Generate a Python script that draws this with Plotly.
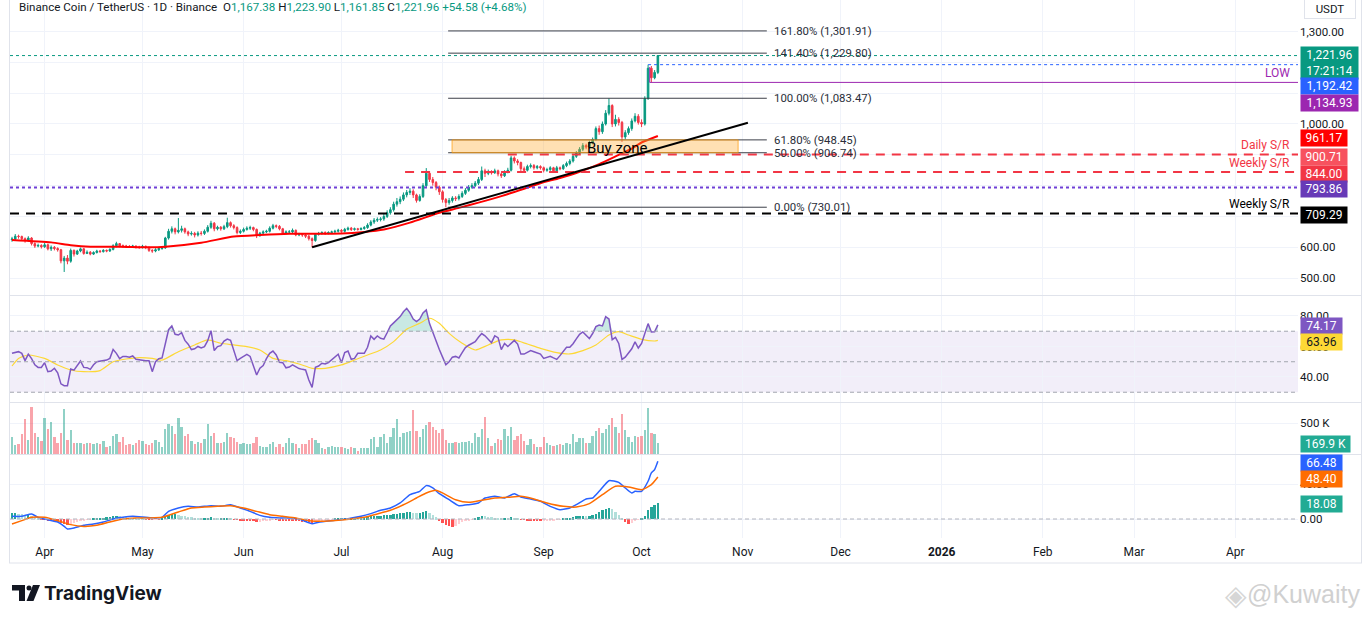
import pandas as pd
import plotly.graph_objects as go

# ---------------- DATA ----------------
BASE = pd.Timestamp("2025-03-22")   # first daily candle

first_open = 625.0
close = [
    627, 636, 635, 628, 622, 630, 612, 604, 606, 602,
    608, 595, 600, 596, 592, 556, 565, 555, 590, 578,
    588, 595, 580, 584, 578, 583, 588, 586, 590, 588,
    593, 605, 612, 605, 604, 603, 602, 604, 601, 600,
    603, 600, 590, 588, 592, 596, 598, 630, 652, 660,
    650, 655, 660, 650, 643, 645, 640, 646, 645, 652,
    665, 678, 660, 665, 660, 667, 680, 670, 664, 648,
    652, 658, 662, 664, 658, 638, 646, 650, 652, 662,
    670, 668, 660, 646, 650, 650, 655, 640, 642, 640,
    636, 628, 622, 642, 645, 648, 645, 648, 650, 652,
    655, 652, 658, 662, 658, 660, 658, 661, 664, 672,
    682, 688, 690, 692, 700, 712, 722, 740, 748, 756,
    770, 778, 782, 770, 752, 765, 800, 840, 820, 810,
    795, 780, 755, 745, 752, 760, 758, 765, 775, 785,
    795, 800, 808, 820, 848, 840, 845, 842, 848, 838,
    832, 845, 850, 890, 880, 875, 855, 850, 862, 865,
    858, 862, 858, 850, 852, 858, 848, 858, 855, 865,
    872, 880, 895, 905, 918, 930, 925, 940, 950, 985,
    975, 1000, 1035, 1060, 1000, 1015, 1005, 958, 972, 985,
    1010, 1025, 1005, 1000, 1083, 1181, 1150, 1167.38, 1221.96,
]
high = [
    634, 643, 641, 638, 632, 636, 633, 616, 612, 610,
    614, 612, 606, 604, 600, 595, 572, 575, 596, 593,
    592, 599, 598, 590, 588, 587, 592, 591, 594, 593,
    597, 610, 618, 614, 609, 608, 607, 608, 606, 605,
    608, 606, 602, 594, 597, 601, 604, 634, 660, 668,
    664, 695, 670, 664, 654, 652, 650, 652, 653, 658,
    672, 686, 682, 670, 669, 673, 696, 684, 675, 668,
    658, 664, 668, 670, 667, 661, 650, 655, 657, 668,
    676, 674, 672, 663, 655, 656, 661, 658, 647, 646,
    644, 640, 632, 646, 650, 652, 652, 652, 654, 657,
    660, 659, 663, 667, 666, 664, 663, 665, 669, 678,
    688, 695, 697, 698, 708, 720, 730, 748, 760, 765,
    778, 786, 792, 788, 774, 772, 808, 857, 845, 828,
    815, 800, 785, 760, 760, 766, 766, 772, 782, 792,
    802, 808, 815, 828, 862, 855, 852, 850, 855, 852,
    842, 850, 858, 897, 895, 886, 878, 862, 868, 872,
    870, 867, 866, 862, 858, 863, 861, 864, 862, 870,
    878, 886, 902, 912, 925, 938, 936, 946, 956, 992,
    995, 1008, 1045, 1083.47, 1064, 1030, 1022, 1010, 980, 992,
    1018, 1035, 1032, 1015, 1090, 1192.42, 1188, 1175, 1223.90,
]
low = [
    618, 624, 628, 622, 615, 618, 606, 598, 600, 596,
    598, 590, 588, 590, 586, 548, 520, 545, 550, 570,
    575, 584, 576, 578, 574, 575, 580, 582, 583, 584,
    585, 590, 600, 600, 599, 598, 598, 598, 596, 595,
    596, 594, 585, 582, 584, 588, 592, 595, 625, 645,
    642, 645, 648, 644, 636, 638, 632, 635, 638, 640,
    648, 660, 652, 655, 654, 656, 662, 664, 658, 642,
    643, 648, 654, 656, 652, 630, 634, 642, 646, 648,
    658, 662, 655, 640, 642, 645, 646, 636, 636, 634,
    630, 622, 600, 618, 638, 641, 640, 642, 644, 646,
    648, 647, 648, 654, 653, 654, 654, 655, 657, 660,
    668, 676, 682, 684, 686, 695, 706, 716, 732, 740,
    750, 762, 770, 760, 745, 748, 760, 795, 812, 800,
    785, 770, 745, 730.01, 738, 745, 750, 752, 760, 770,
    780, 790, 795, 802, 815, 828, 834, 836, 838, 830,
    825, 828, 840, 846, 872, 866, 846, 842, 846, 856,
    852, 853, 852, 843, 845, 848, 842, 845, 850, 851,
    860, 866, 875, 890, 900, 912, 918, 920, 934, 946,
    965, 968, 995, 1028, 990, 992, 995, 942, 950, 965,
    978, 1005, 998, 990, 995, 1078, 1134.93, 1145, 1161.85,
]
volume_k = [
    280, 145, 161, 323, 564, 226, 753, 333, 274, 210,
    575, 409, 511, 274, 183, 344, 731, 226, 387, 183,
    183, 172, 161, 172, 172, 161, 183, 161, 210, 118,
    129, 290, 323, 199, 280, 145, 161, 145, 172, 226,
    215, 161, 145, 172, 226, 199, 108, 398, 484, 457,
    323, 586, 441, 290, 317, 210, 161, 199, 183, 237,
    478, 290, 344, 172, 183, 199, 333, 280, 253, 199,
    161, 172, 161, 167, 183, 280, 129, 108, 118, 161,
    199, 118, 161, 108, 183, 253, 172, 161, 91, 161,
    161, 226, 253, 226, 172, 91, 75, 108, 129, 118,
    108, 118, 91, 75, 108, 91, 54, 91, 91, 91,
    237, 280, 118, 269, 323, 183, 269, 414, 565, 280,
    344, 360, 376, 710, 376, 280, 398, 470, 522, 441,
    387, 344, 398, 226, 172, 183, 199, 172, 199, 199,
    215, 172, 333, 280, 403, 602, 253, 129, 172, 242,
    226, 403, 290, 441, 226, 290, 323, 210, 145, 242,
    161, 118, 118, 269, 172, 145, 129, 145, 161, 145,
    183, 161, 317, 194, 263, 263, 172, 183, 296, 371,
    425, 344, 398, 468, 586, 430, 344, 640, 387, 280,
    194, 296, 280, 290, 387, 747, 344, 323, 169.9,
]
rsi = [
    55.5, 56, 56.6, 55.5, 50.7, 55, 52, 48, 46.3, 46.3,
    49.4, 43.5, 43.9, 45.7, 42.8, 35.5, 34.3, 34.3, 45.2, 44.5,
    47.2, 50.5, 46.3, 46.1, 45, 48, 50, 50.3, 50.8, 51.1,
    52.2, 58, 55.5, 52, 53.5, 53.5, 53, 53.8, 51.6, 51.2,
    51, 50.7, 50.7, 43.5, 50, 52, 52.5, 62, 71, 73.5,
    68, 67.5, 69, 64, 61.5, 58, 58.5, 60, 59, 59.9,
    63.8, 70.4, 57.3, 59.9, 60.5, 63.5, 64.9, 64, 57.7, 50.7,
    52.2, 53.3, 54.8, 53.5, 47, 41.3, 45.7, 47.5, 52, 55.5,
    57, 54.4, 49.6, 49.4, 46, 46.5, 47.9, 46.8, 45.5, 45,
    44.6, 38, 33.2, 46.3, 47.2, 49, 48.6, 49.5, 51.1, 53,
    54.9, 49.4, 56, 57, 51.6, 52.2, 55.5, 55.5, 55.5, 59.5,
    66.9, 64.7, 66.9, 65.4, 64.8, 69, 73.5, 75.5, 77.4, 79.6,
    82.8, 85, 82, 78, 76.3, 78, 82, 84, 75, 69,
    63, 58, 53, 48, 50, 53, 53.5, 52.5, 56, 59.3,
    60.8, 62.1, 63.2, 66, 68.5, 67, 64.5, 62.5, 67, 65.8,
    58, 62, 60, 62, 64, 61.6, 55, 55, 56.2, 57.3,
    56.5, 55.6, 55, 52.2, 52.7, 53.6, 52.5, 51.5, 54, 56.7,
    59.5, 59.5, 61.8, 65, 68, 69.5, 67.3, 65.2, 68.5, 73,
    74, 73.5, 79.5, 78, 64.5, 66, 62, 51.5, 53, 55.5,
    58.5, 63, 59, 62, 68.3, 75, 69.5, 69.6, 74.17,
]
rsi_ma_days = [0, 2, 5, 10, 14, 18, 22, 27, 31, 35, 39, 43, 46, 51, 56, 60, 64, 68, 72, 76,
               80, 84, 88, 92, 96, 101, 105, 109, 113, 117, 121, 125, 128, 131, 134, 138, 142, 146, 150, 154,
               158, 162, 167, 171, 175, 179, 183, 186, 189, 193, 197, 198]
rsi_ma = [47.2, 52.2, 54.4, 52.2, 47.9, 44.6, 43.5, 44.2, 50, 51.8, 52.7, 52.2, 51.1, 56.6, 61, 64.3, 62.1, 61, 59.9, 57.7,
          52.2, 50.7, 48.5, 45.7, 45.7, 47.9, 51.1, 54.4, 57.7, 63.2, 71.3, 75.2, 78.5, 75.2, 68.6, 62.1, 57.7, 61, 64.3, 64.3,
          61.6, 58.8, 56, 55.1, 57.3, 61, 67.5, 69.7, 67.5, 64.7, 63.6, 63.96]
ema_days = [0, 12, 18, 24, 33, 42, 47, 58, 68, 76, 85, 101, 108, 114, 122, 131, 137, 143, 150, 157,
            162, 168, 174, 180, 186, 190, 193, 198]
ema = [624, 616, 607, 602, 602, 600, 602, 615, 635, 640, 644, 645, 650, 658, 680, 712, 728, 745, 766, 790,
       808, 825, 845, 870, 900, 920, 940, 961.17]
macd_days = [0, 3, 6, 8, 11, 14, 16, 17, 19, 22, 25, 28, 31, 34, 37, 40, 43, 46, 48, 51,
             54, 57, 61, 64, 67, 70, 73, 76, 79, 82, 85, 88, 92, 94, 99, 103, 107, 110, 113, 116,
             119, 122, 125, 127, 129, 131, 134, 137, 140, 143, 145, 148, 151, 154, 156, 159, 162, 165, 168, 171,
             173, 176, 178, 180, 183, 186, 188, 190, 191, 193, 195, 196, 197, 198]
macd = [3.1, 3.1, 5.8, 1.9, -0.8, -3.5, -8.5, -11.5, -10.4, -7.3, -5.8, -3.5, 0, 1.9, 3.1, 2.3, 1.2, 1.9, 8.8, 12.7,
        14.6, 13.8, 15.4, 14.6, 16.5, 12.7, 8.8, 4.2, 1.9, 1.2, 1.2, 0, -5.4, -3.8, -1.5, 0.4, 3.1, 6.2, 10, 12.7,
        18.5, 28.1, 31.9, 38.5, 35.8, 29.2, 22.3, 15.4, 16.5, 18.5, 24.2, 26.2, 24.2, 29.2, 25.4, 23.1, 20.4, 14.6, 10.8, 12.7,
        16.5, 23.1, 24.2, 31.9, 44.2, 42.3, 35.8, 30, 31.9, 31.9, 43.5, 53.1, 56.9, 66.48]
signal_days = [0, 3, 6, 10, 14, 18, 22, 26, 30, 34, 38, 42, 46, 51, 55, 59, 63, 67, 71, 75,
               79, 83, 87, 91, 95, 100, 104, 108, 112, 116, 120, 124, 127, 130, 136, 140, 144, 148, 152, 156,
               160, 164, 169, 173, 177, 181, 185, 189, 193, 196, 198]
signal = [-5.8, -1.9, 1.9, 1.9, -1.9, -6.5, -8.5, -7.3, -3.5, 0, 1.2, 1.2, 1.9, 8.1, 12.7, 13.8, 14.6, 15.4, 12.7, 8.8,
          5, 3.1, 1.2, -1.9, -2.7, -1.5, 0, 1.9, 5.8, 10, 16.5, 24.2, 30, 33.1, 22.3, 19.2, 21.5, 24.2, 25, 26.2,
          23.1, 18.5, 14.6, 13.8, 17.7, 28.1, 37.7, 36.9, 33.8, 39.6, 48.4]
hist = [
    6.5, 7, 6, 5.5, 4.5, 4.5, 4, 2.5, 1, -0.5,
    -1, -1.5, -2, -2.5, -3.5, -4.5, -6, -7, -6, -4.5,
    -3, -2, -1.5, -1, -0.5, 0.5, 1, 1.5, 1.5, 1.8,
    2.5, 3, 3.5, 3, 2.5, 2, 1.5, 1, 0.8, 0.5,
    0.3, -0.2, -0.3, -0.5, -0.3, -0.5, 0.2, 2.5, 4.5, 6,
    6, 5, 4, 3.5, 2.5, 2, 1.5, 0.8, 0.5, 0.8,
    1.5, 2, 1, 0.5, 0.8, 1, 1.2, 0.5, -0.3, -1,
    -1.5, -2, -2, -2.2, -2.5, -3.5, -3, -2.5, -2, -1.5,
    -1, -1, -1.5, -2, -2, -2.2, -2.5, -2.5, -2.8, -3,
    -3, -3.2, -4.5, -3, -2, -1.5, -1, -0.5, -0.3, 0.2,
    0.5, 0.8, 1.2, 1, 1.2, 1.5, 1.3, 1.5, 1.8, 2,
    3, 3.5, 4, 4, 4.2, 4.5, 5, 5.5, 6, 6.5,
    7, 8, 8.5, 7.5, 6.5, 7, 8, 9.5, 7, 5,
    2, -2, -5, -7, -8.5, -9, -8, -6, -4, -2.5,
    -1.5, -0.5, 0.5, 2, 3.5, 3, 2.5, 2, 1.5, 1.2,
    1, 1.5, 1, 2, 1.5, 0.5, -0.5, -1, -1.5, -1.5,
    -2, -2.5, -2.8, -2.5, -2, -1.5, -1.2, -0.8, -0.5, 0.2,
    0.5, 1, 2, 3, 3.5, 3.8, 3.5, 4, 5, 6,
    8, 10, 11.5, 12.5, 11, 8, 5, 1, -3, -5.5,
    -4.5, -2.5, -1, 1, 4, 10, 14, 16, 18.08,
]

month_ticks = ["2025-04-01", "2025-05-01", "2025-06-01", "2025-07-01", "2025-08-01", "2025-09-01",
               "2025-10-01", "2025-11-01", "2025-12-01", "2026-01-01", "2026-02-01", "2026-03-01", "2026-04-01"]
month_text = ["Apr", "May", "Jun", "Jul", "Aug", "Sep", "Oct", "Nov", "Dec", "<b>2026</b>", "Feb", "Mar", "Apr"]

fib_pct = [161.8, 141.4, 100.0, 61.8, 50.0, 0.0]
fib_price = [1301.91, 1229.80, 1083.47, 948.45, 906.74, 730.01]
fib_start_day, fib_end_day = 133.7, 231.4
zone_start_day, zone_end_day = 134.9, 222.6
trend_days = [92, 225.6]
trend_prices = [600.0, 1004.0]

last_price = 1221.96
countdown = "17:21:14"
prev_high = 1192.42
prev_high_day = 195
low_level = 1134.93
low_day = 196
daily_sr, daily_sr_day = 900.71, 152
weekly_sr, weekly_sr_day = 844.00, 120.5
purple_level = 793.86
weekly_sr2 = 709.29
rsi_last, rsi_ma_last = 74.17, 63.96
vol_last_text = "169.9 K"
macd_last, signal_last, hist_last = 66.48, 48.40, 18.08
header_ohlc = dict(O="1,167.38", H="1,223.90", L="1,161.85", C="1,221.96")
header_change = "+54.58 (+4.68%)"

N = len(close)
assert all(len(a) == N for a in (high, low, volume_k, rsi, hist))
assert len(rsi_ma_days) == len(rsi_ma) and len(ema_days) == len(ema)
assert len(macd_days) == len(macd) and len(signal_days) == len(signal)

# ---------------- HELPERS ----------------
FONT = "Roboto"
TXT = "#131722"
GRID = "#f0f3fa"
W, H = 1371, 621
PL, PR, PT, PB = 10, 1298, 0, 538


def day(i):
    return (BASE + pd.Timedelta(days=float(i))).strftime("%Y-%m-%d %H:%M:%S")


def px_x(x):
    return (x - PL) / (PR - PL)


def px_y(y):
    return 1 - (y - PT) / (PB - PT)


dates = [day(i) for i in range(N)]
opens = [first_open] + close[:-1]
x_range = [day(-0.613), day(394.24)]

fig = go.Figure()

# ---- price pane ----
fig.add_trace(go.Candlestick(
    x=dates, open=opens, high=high, low=low, close=close,
    increasing=dict(line=dict(color="#089981", width=1), fillcolor="#089981"),
    decreasing=dict(line=dict(color="#f23645", width=1), fillcolor="#f23645"),
    xaxis="x", yaxis="y", hoverinfo="skip", showlegend=False))
fig.add_trace(go.Scatter(x=[day(d) for d in ema_days], y=ema, mode="lines",
                         line=dict(color="#ff0000", width=2, shape="spline", smoothing=0.6),
                         xaxis="x", yaxis="y", hoverinfo="skip"))

# ---- RSI pane ----
fig.add_trace(go.Scatter(x=dates, y=[70] * N, mode="lines", line=dict(width=0),
                         xaxis="x2", yaxis="y2", hoverinfo="skip"))
fig.add_trace(go.Scatter(x=dates, y=[max(v, 70) for v in rsi], mode="lines", line=dict(width=0),
                         fill="tonexty", fillcolor="rgba(8,153,129,0.22)",
                         xaxis="x2", yaxis="y2", hoverinfo="skip"))
fig.add_trace(go.Scatter(x=[day(d) for d in rsi_ma_days], y=rsi_ma, mode="lines",
                         line=dict(color="#fdd835", width=1.2, shape="spline", smoothing=0.6),
                         xaxis="x2", yaxis="y2", hoverinfo="skip"))
fig.add_trace(go.Scatter(x=dates, y=rsi, mode="lines", line=dict(color="#7e57c2", width=1.5),
                         xaxis="x2", yaxis="y2", hoverinfo="skip"))

# ---- volume pane ----
vol_colors = ["rgba(8,153,129,0.45)" if c >= o else "rgba(242,54,69,0.45)" for o, c in zip(opens, close)]
fig.add_trace(go.Bar(x=dates, y=[v * 1000 for v in volume_k], marker=dict(color=vol_colors, line=dict(width=0)),
                     width=0.72 * 86400000, xaxis="x3", yaxis="y3", hoverinfo="skip"))

# ---- MACD pane ----
hist_colors = []
prev = 0
for h in hist:
    if h >= 0:
        hist_colors.append("#26a69a" if h >= prev else "#b2dfdb")
    else:
        hist_colors.append("#ff5252" if h <= prev else "#ffcdd2")
    prev = h
fig.add_trace(go.Bar(x=dates, y=hist, marker=dict(color=hist_colors, line=dict(width=0)),
                     width=0.72 * 86400000, xaxis="x4", yaxis="y4", hoverinfo="skip"))
fig.add_trace(go.Scatter(x=[day(d) for d in macd_days], y=macd, mode="lines",
                         line=dict(color="#2962ff", width=1.5, shape="spline", smoothing=0.5),
                         xaxis="x4", yaxis="y4", hoverinfo="skip"))
fig.add_trace(go.Scatter(x=[day(d) for d in signal_days], y=signal, mode="lines",
                         line=dict(color="#ff6d00", width=1.5, shape="spline", smoothing=0.6),
                         xaxis="x4", yaxis="y4", hoverinfo="skip"))

# ---------------- SHAPES ----------------
shapes = []
shapes.append(dict(type="rect", xref="x2 domain", yref="y2", x0=0, x1=1, y0=30, y1=70,
                   fillcolor="rgba(126,87,194,0.10)", line=dict(width=0), layer="below"))
for lv in (70, 50, 30):
    shapes.append(dict(type="line", xref="x2 domain", yref="y2", x0=0, x1=1, y0=lv, y1=lv,
                       line=dict(color="#a3a6af", width=1, dash="4px,3px")))
shapes.append(dict(type="line", xref="x4 domain", yref="y4", x0=0, x1=1, y0=0, y1=0,
                   line=dict(color="#b2b5be", width=1, dash="4px,3px")))

shapes.append(dict(type="line", xref="x domain", yref="y", x0=0, x1=1, y0=last_price, y1=last_price,
                   line=dict(color="#089981", width=1, dash="dot")))
shapes.append(dict(type="line", xref="x", yref="y", x0=day(prev_high_day), x1=x_range[1], y0=prev_high, y1=prev_high,
                   line=dict(color="#2962ff", width=1, dash="dot")))
shapes.append(dict(type="line", xref="x", yref="y", x0=day(low_day - 0.5), x1=x_range[1], y0=low_level, y1=low_level,
                   line=dict(color="#9c27b0", width=1)))
shapes.append(dict(type="line", xref="x", yref="y", x0=day(low_day - 0.5), x1=day(low_day - 0.5), y0=low_level, y1=1185,
                   line=dict(color="#9c27b0", width=1)))
shapes.append(dict(type="line", xref="x", yref="y", x0=day(daily_sr_day), x1=x_range[1], y0=daily_sr, y1=daily_sr,
                   line=dict(color="#f23645", width=2, dash="9px,7px")))
shapes.append(dict(type="line", xref="x", yref="y", x0=day(weekly_sr_day), x1=x_range[1], y0=weekly_sr, y1=weekly_sr,
                   line=dict(color="#f23645", width=2, dash="9px,7px")))
shapes.append(dict(type="line", xref="x domain", yref="y", x0=0, x1=1, y0=purple_level, y1=purple_level,
                   line=dict(color="#6f3fd6", width=2, dash="dot")))
shapes.append(dict(type="line", xref="x domain", yref="y", x0=0, x1=1, y0=weekly_sr2, y1=weekly_sr2,
                   line=dict(color="#000000", width=2, dash="9px,7px")))
for p in fib_price:
    shapes.append(dict(type="line", xref="x", yref="y", x0=day(fib_start_day), x1=day(fib_end_day), y0=p, y1=p,
                       line=dict(color="#3c3f48", width=1)))
shapes.append(dict(type="rect", xref="x", yref="y", x0=day(zone_start_day), x1=day(zone_end_day),
                   y0=fib_price[4], y1=fib_price[3], fillcolor="rgba(255,167,38,0.35)",
                   line=dict(color="rgba(255,152,0,0.7)", width=1)))
shapes.append(dict(type="line", xref="x", yref="y", x0=day(trend_days[0]), x1=day(trend_days[1]),
                   y0=trend_prices[0], y1=trend_prices[1], line=dict(color="#000000", width=2)))

for ypx in (295.5, 402.5, 454.5):
    shapes.append(dict(type="line", xref="paper", yref="paper", x0=px_x(9), x1=px_x(1362), y0=px_y(ypx), y1=px_y(ypx),
                       line=dict(color="#e0e3eb", width=1)))
shapes.append(dict(type="line", xref="paper", yref="paper", x0=px_x(9.5), x1=px_x(9.5), y0=px_y(0), y1=px_y(563),
                   line=dict(color="#e0e3eb", width=1)))
shapes.append(dict(type="line", xref="paper", yref="paper", x0=px_x(1361.5), x1=px_x(1361.5), y0=px_y(0), y1=px_y(563),
                   line=dict(color="#e0e3eb", width=1)))
shapes.append(dict(type="line", xref="paper", yref="paper", x0=px_x(9), x1=px_x(1362), y0=px_y(563), y1=px_y(563),
                   line=dict(color="#e0e3eb", width=1)))


def path(pts):
    return "M " + " L ".join(f"{px_x(x):.5f},{px_y(y):.5f}" for x, y in pts) + " Z"


shapes.append(dict(type="path", xref="paper", yref="paper",
                   path=path([(12, 585), (25, 585), (25, 601), (19, 601), (19, 590.5), (12, 590.5)]),
                   fillcolor=TXT, line=dict(width=0)))
shapes.append(dict(type="circle", xref="paper", yref="paper", x0=px_x(26.5), x1=px_x(31.5), y0=px_y(590.5), y1=px_y(585.5),
                   fillcolor=TXT, line=dict(width=0)))
shapes.append(dict(type="path", xref="paper", yref="paper",
                   path=path([(33, 585), (40, 585), (33.5, 601), (26.5, 601)]),
                   fillcolor=TXT, line=dict(width=0)))

# ---------------- ANNOTATIONS ----------------
ann = []
g = "#089981"
hdr = (f"Binance Coin / TetherUS · 1D · Binance  "
       f"O<span style='color:{g}'>{header_ohlc['O']}</span> "
       f"H<span style='color:{g}'>{header_ohlc['H']}</span> "
       f"L<span style='color:{g}'>{header_ohlc['L']}</span> "
       f"C<span style='color:{g}'>{header_ohlc['C']}</span> "
       f"<span style='color:{g}'>{header_change}</span>")
ann.append(dict(xref="paper", yref="paper", x=px_x(17), y=px_y(7), xanchor="left", yanchor="middle",
                text=hdr, showarrow=False, font=dict(size=11.6, color=TXT, family=FONT)))
ann.append(dict(xref="paper", yref="paper", x=px_x(1330), y=px_y(8.5), xanchor="center", yanchor="middle",
                text="USDT", showarrow=False, font=dict(size=11.5, color=TXT, family=FONT),
                bgcolor="white", bordercolor="#e0e3eb", borderwidth=1, borderpad=2, width=46))

for pct, p in zip(fib_pct, fib_price):
    ann.append(dict(xref="x", yref="y", x=day(fib_end_day + 1.6), y=p, xanchor="left", yanchor="middle",
                    text=f"{pct:.2f}% ({p:,.2f})", showarrow=False, font=dict(size=11.4, color="#2a2e39", family=FONT)))
ann.append(dict(xref="x", yref="y", x=day((zone_start_day + zone_end_day) / 2 + 7), y=922, xanchor="center",
                yanchor="middle", text="Buy zone", showarrow=False, font=dict(size=15, color="#000000", family=FONT)))

for txt, ypx, col in (("LOW", 73, "#9c27b0"), ("Daily S/R", 145, "#f23645"),
                      ("Weekly S/R", 163, "#f23645"), ("Weekly S/R", 204, "#000000")):
    ann.append(dict(xref="paper", yref="paper", x=px_x(1292), y=px_y(ypx), xanchor="right", yanchor="middle",
                    text=txt, showarrow=False, font=dict(size=12, color=col, family=FONT)))


def tag(text, ypx, bg, w, fg="white"):
    return dict(xref="paper", yref="paper", x=px_x(1299.5), y=px_y(ypx), xanchor="left", yanchor="middle",
                text=text, showarrow=False, bgcolor=bg, borderpad=1, width=w, align="center",
                font=dict(size=12, color=fg, family=FONT))


ann += [
    tag(f"{last_price:,.2f}<br>{countdown}", 63.5, "#089981", 55),
    tag(f"{prev_high:,.2f}", 86.5, "#2962ff", 55),
    tag(f"{low_level:,.2f}", 102.5, "#9c27b0", 55),
    tag(f"{ema[-1]:,.2f}", 137.5, "#ff0000", 44),
    tag(f"{daily_sr:,.2f}", 156.5, "#f7525f", 44),
    tag(f"{weekly_sr:,.2f}", 173.5, "#f23645", 44),
    tag(f"{purple_level:,.2f}", 189.5, "#673ab7", 44),
    tag(f"{weekly_sr2:,.2f}", 214.5, "#000000", 44),
    tag(f"{rsi_last:.2f}", 326, "#7e57c2", 39),
    tag(f"{rsi_ma_last:.2f}", 342, "#fdd835", 39, fg=TXT),
    tag(vol_last_text, 443.5, "#22ab94", 47),
    tag(f"{macd_last:.2f}", 462.5, "#2962ff", 39),
    tag(f"{signal_last:.2f}", 478.5, "#ff6d00", 39),
    tag(f"{hist_last:.2f}", 504, "#22ab94", 39),
]

ann.append(dict(xref="paper", yref="paper", x=px_x(42), y=px_y(593), xanchor="left", yanchor="middle",
                text="<b>TradingView</b>", showarrow=False, font=dict(size=19, color=TXT, family="Inter")))
ann.append(dict(xref="paper", yref="paper", x=px_x(1236), y=px_y(595), xanchor="center", yanchor="middle",
                text="◈", showarrow=False, font=dict(size=28, color="#d6d6d6", family="DejaVu Sans")))
ann.append(dict(xref="paper", yref="paper", x=px_x(1362), y=px_y(594), xanchor="right", yanchor="middle",
                text="@Kuwaity", showarrow=False, font=dict(size=25, color="#d0d0d0", family="Liberation Sans")))

# ---------------- LAYOUT ----------------
ydom = {
    "y": [px_y(295), px_y(0)],
    "y2": [px_y(402), px_y(296)],
    "y3": [px_y(454), px_y(403)],
    "y4": [px_y(538), px_y(455)],
}
xbase = dict(range=x_range, type="date", showgrid=True, gridcolor=GRID, gridwidth=1, tickvals=month_ticks,
             ticktext=month_text, showticklabels=False, zeroline=False, showline=False, ticks="",
             domain=[0, 1])
ybase = dict(side="right", showgrid=True, gridcolor=GRID, zeroline=False, showline=False, ticks="",
             ticklabelstandoff=1, tickfont=dict(size=11.5, color=TXT, family=FONT), fixedrange=True)

price_ticks = [500, 600, 700, 800, 900, 1000, 1100, 1200, 1300]
price_text = ["500.00", "600.00", "", "", "", "1,000.00", "", "", "1,300.00"]

layout = dict(
    width=W, height=H, margin=dict(l=PL, r=W - PR, t=PT, b=H - PB),
    paper_bgcolor="white", plot_bgcolor="white", showlegend=False, bargap=0,
    font=dict(family=FONT, color=TXT),
    xaxis=dict(xbase, anchor="y", rangeslider=dict(visible=False)),
    xaxis2=dict(xbase, anchor="y2", matches="x"),
    xaxis3=dict(xbase, anchor="y3", matches="x"),
    xaxis4=dict(xbase, anchor="y4", matches="x", showticklabels=True, ticklabelstandoff=5,
                tickfont=dict(size=12, color=TXT, family=FONT)),
    yaxis=dict(ybase, domain=ydom["y"], anchor="x", range=[445.3, 1402.2], tickvals=price_ticks, ticktext=price_text),
    yaxis2=dict(ybase, domain=ydom["y2"], anchor="x2", range=[23.6, 93.1], tickvals=[40, 60, 80],
                ticktext=["40.00", "60.00", "80.00"]),
    yaxis3=dict(ybase, domain=ydom["y3"], anchor="x3", range=[0, 822600], tickvals=[500000], ticktext=["500 K"]),
    yaxis4=dict(ybase, domain=ydom["y4"], anchor="x4", range=[-21.9, 73.8], tickvals=[0, 40],
                ticktext=["0.00", "40.00"]),
    shapes=shapes, annotations=ann,
)
fig.update_layout(layout)
fig.write_html("out.html", config={"displayModeBar": False},
               post_script="document.body.style.margin='0';document.body.style.padding='0';"
                           "document.body.style.overflow='hidden';")
